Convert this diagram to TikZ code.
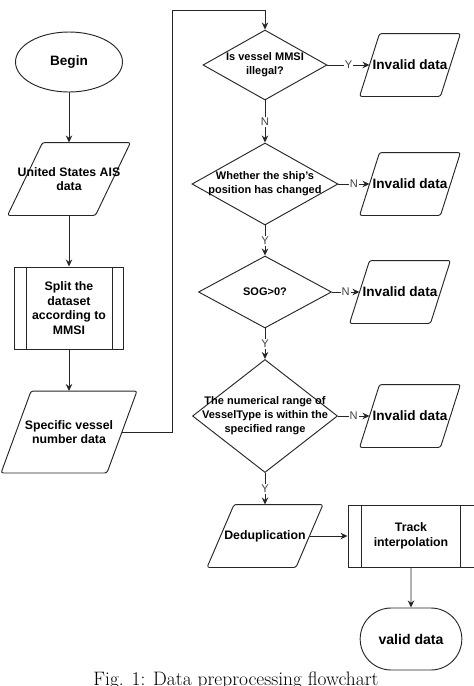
\documentclass[tikz,border=0pt]{standalone}
\usepackage{fontspec}
\setsansfont{Liberation Sans}
\usetikzlibrary{shapes.geometric,shapes.misc,arrows.meta,calc}

\begin{document}
\begin{tikzpicture}[x=0.03cm, y=-0.03cm,
    base/.style={draw=black!85, line width=0.8pt, align=center, inner sep=1pt,
        font=\sffamily\bfseries\fontsize{10.5}{12.5}\selectfont},
    line/.style={draw=black!85, line width=0.8pt},
    arrow/.style={line, -{Stealth[length=6pt,width=5.5pt]}},
    terminal/.style={base, ellipse, minimum width=3.21cm, minimum height=1.8cm,
        font=\sffamily\bfseries\fontsize{11.6}{14}\selectfont},
    finish/.style={base, rounded rectangle, minimum width=3.12cm, minimum height=1.86cm,
        font=\sffamily\bfseries\fontsize{12}{14}\selectfont},
    % parallelogram: the node is its body, #1 is half the slant
    iodata/.style={base, rectangle, draw=none, append after command={\pgfextra{
        \let\ionode\tikzlastnode
        \draw[line, rounded corners=2pt]
            ($(\ionode.north west)+(#1,0)$) -- ($(\ionode.north east)+(#1,0)$)
            -- ($(\ionode.south east)+(-#1,0)$) -- ($(\ionode.south west)+(-#1,0)$)
            -- cycle;}}},
    invalid/.style={iodata=10, minimum width=2.4cm, minimum height=1.86cm,
        font=\sffamily\bfseries\fontsize{11.6}{14}\selectfont},
    process/.style={base, rectangle},
    decision/.style={base, diamond, inner sep=0pt},
    boxtext/.style={align=center, font=\sffamily\bfseries\fontsize{10.5}{12.5}\selectfont},
    dtext/.style={align=center, font=\sffamily\bfseries\fontsize{9.4}{12}\selectfont},
    elabel/.style={fill=white, inner sep=1pt, text=black!75,
        font=\sffamily\fontsize{9.5}{10}\selectfont}
]
    \useasboundingbox (0,0) rectangle (474,686);

    % left column
    \node[terminal] (begin) at (69,62) {Begin};
    \node[iodata=17.5, minimum width=2.61cm, minimum height=2.16cm,
        label={[boxtext]center:{United States AIS\\data}}] (ais) at (69,179) {};
    \node[process, minimum width=3.27cm, minimum height=2.46cm] (split) at (69,308)
        {Split the\\dataset\\according to\\MMSI};
    \node[iodata=15, minimum width=3.15cm, minimum height=2.43cm] (specific) at (69,432)
        {Specific vessel\\number data};
    \coordinate (turn) at (172,10);

    % right column
    \node[decision, minimum width=3.72cm, minimum height=2.1cm,
        label={[dtext]center:{Is vessel MMSI\\illegal?}}] (d1) at (265,65) {};
    \node[decision, minimum width=4.38cm, minimum height=2.46cm,
        label={[dtext]center:{Whether the ship's\\position has changed}}] (d2) at (265,184) {};
    \node[decision, minimum width=3.99cm, minimum height=2.16cm,
        label={[dtext]center:{SOG>0?}}] (d3) at (265,292) {};
    \node[decision, minimum width=4.35cm, minimum height=3.39cm,
        label={[dtext]center:{The numerical range of\\VesselType is within the\\specified range}}] (d4) at (265,416) {};

    \node[invalid] (inv1) at (410,65) {Invalid data};
    \node[invalid] (inv2) at (410,184) {Invalid data};
    \node[invalid] (inv3) at (400,292) {Invalid data};
    \node[invalid] (inv4) at (410,416) {Invalid data};

    \node[iodata=13.5, minimum width=2.64cm, minimum height=1.86cm] (dedup) at (265,536)
        {Deduplication};
    \node[process, minimum width=3.78cm, minimum height=1.86cm] (track) at (411,536)
        {Track\\interpolation};
    \node[finish] (valid) at (411,639) {valid data};

    % side bars of the process boxes
    \draw[line] ($(split.north west)+(12,0)$) -- ($(split.south west)+(12,0)$);
    \draw[line] ($(split.north east)+(-12,0)$) -- ($(split.south east)+(-12,0)$);
    \draw[line] ($(track.north west)+(14,0)$) -- ($(track.south west)+(14,0)$);
    \draw[line] ($(track.north east)+(-14,0)$) -- ($(track.south east)+(-14,0)$);

    % connectors
    \draw[arrow] (begin) -- (ais);
    \draw[arrow] (ais) -- (split);
    \draw[arrow] (split) -- (specific);
    \draw[arrow] (specific.east) -| (turn) -| (d1.north);

    \draw[arrow] (d1) -- node[elabel] {Y} (inv1);
    \draw[arrow] (d1) -- node[elabel] {N} (d2);
    \draw[arrow] (d2) -- node[elabel] {N} (inv2);
    \draw[arrow] (d2) -- node[elabel] {Y} (d3);
    \draw[arrow] (d3) -- node[elabel] {N} (inv3);
    \draw[arrow] (d3) -- node[elabel] {Y} (d4);
    \draw[arrow] (d4) -- node[elabel] {N} (inv4);
    \draw[arrow] (d4) -- node[elabel] {Y} (dedup);
    \draw[arrow] (dedup) -- (track);
    \draw[arrow] (track) -- (valid);

    % caption
    \node[anchor=base, font=\fontsize{16.6}{19}\selectfont] (caption) at (236,685)
        {Fig. 1: Data preprocessing flowchart};
\end{tikzpicture}
\end{document}
